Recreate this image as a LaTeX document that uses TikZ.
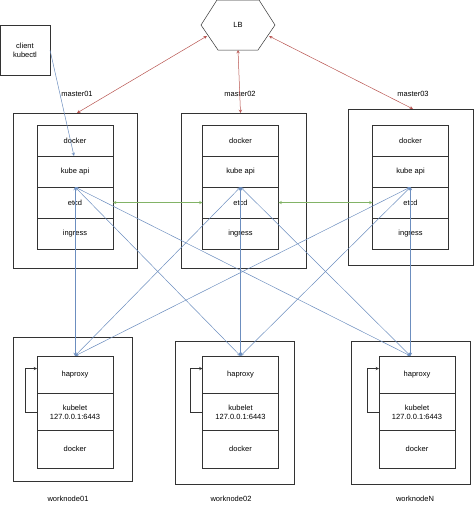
\documentclass[tikz,border=0pt]{standalone}
\usepackage{fontspec}
\setsansfont{Liberation Sans}
\usepackage{xcolor}
\usetikzlibrary{positioning}

\definecolor{lbred}{HTML}{B85450}
\definecolor{etcdgreen}{HTML}{82B366}
\definecolor{apiblue}{HTML}{6C8EBF}

\begin{document}
\begin{tikzpicture}[x=1pt,y=-1pt,>=stealth,font=\sffamily\fontsize{7.5}{9}\selectfont]
  \tikzstyle{frame}=[draw=black!80,line width=0.5pt,outer sep=0pt,inner sep=0pt]
  \tikzstyle{row}=[frame,minimum width=76pt,minimum height=31pt]
  \tikzstyle{wrow}=[frame,minimum width=76pt,minimum height=37.3pt,align=center]
  \tikzstyle{lbline}=[draw=lbred,line width=0.5pt,<->]
  \tikzstyle{etcdline}=[draw=etcdgreen,line width=0.5pt,<->]
  \tikzstyle{apiline}=[draw=apiblue,line width=0.5pt,<->]
  \useasboundingbox (0,0) rectangle (474,506);

  % load balancer
  \draw[frame] (201,25) -- (217,0) -- (259,0) -- (275,25) -- (258,50) -- (218,50) -- cycle;
  \node (lb) at (238,25) {LB};
  \coordinate (lbsw) at (207,36);
  \coordinate (lbs) at (238,50);
  \coordinate (lbse) at (269,36);

  % client
  \node[frame,minimum width=50pt,minimum height=50pt,align=center] (client) at (25,50) {client\\kubectl};

  % masters
  \node[frame,minimum width=124pt,minimum height=155pt] (m1) at (75,190.5) {};
  \node[frame,minimum width=125pt,minimum height=155pt] (m2) at (243.5,190.5) {};
  \node[frame,minimum width=125pt,minimum height=156pt] (m3) at (410.5,187) {};
  \node (m1label) at (77,94) {master01};
  \node (m2label) at (240,94) {master02};
  \node (m3label) at (413,94) {master03};

  \node[row] (m1docker) at (75,140.5) {docker};
  \node[row,below=0pt of m1docker] (m1api) {kube api};
  \node[row,below=0pt of m1api] (m1etcd) {etcd};
  \node[row,below=0pt of m1etcd] (m1ingress) {ingress};

  \node[row] (m2docker) at (240.5,140.5) {docker};
  \node[row,below=0pt of m2docker] (m2api) {kube api};
  \node[row,below=0pt of m2api] (m2etcd) {etcd};
  \node[row,below=0pt of m2etcd] (m2ingress) {ingress};

  \node[row] (m3docker) at (410.5,140.5) {docker};
  \node[row,below=0pt of m3docker] (m3api) {kube api};
  \node[row,below=0pt of m3api] (m3etcd) {etcd};
  \node[row,below=0pt of m3etcd] (m3ingress) {ingress};

  % worker nodes
  \node[frame,minimum width=119pt,minimum height=144pt] (w1) at (72.5,409) {};
  \node[frame,minimum width=119pt,minimum height=143pt] (w2) at (234.5,412.5) {};
  \node[frame,minimum width=119pt,minimum height=143pt] (wN) at (410.5,412.5) {};
  \node (w1label) at (68,499) {worknode01};
  \node (w2label) at (231,499) {worknode02};
  \node (wNlabel) at (415,499) {worknodeN};

  \node[wrow] (w1haproxy) at (75,374.6) {haproxy};
  \node[wrow,below=0pt of w1haproxy] (w1kubelet) {kubelet\\127.0.0.1:6443};
  \node[wrow,below=0pt of w1kubelet] (w1docker) {docker};

  \node[wrow] (w2haproxy) at (240.5,374.6) {haproxy};
  \node[wrow,below=0pt of w2haproxy] (w2kubelet) {kubelet\\127.0.0.1:6443};
  \node[wrow,below=0pt of w2kubelet] (w2docker) {docker};

  \node[wrow] (wNhaproxy) at (417,374.6) {haproxy};
  \node[wrow,below=0pt of wNhaproxy] (wNkubelet) {kubelet\\127.0.0.1:6443};
  \node[wrow,below=0pt of wNkubelet] (wNdocker) {docker};
  \coordinate (wNin) at ([xshift=-6.5pt]wNhaproxy.north);

  % kubelet -> local haproxy
  \draw[frame,->] (w1kubelet.west) -- ++(-12,0) |- ([yshift=6pt]w1haproxy.west);
  \draw[frame,->] (w2kubelet.west) -- ++(-12,0) |- ([yshift=6pt]w2haproxy.west);
  \draw[frame,->] (wNkubelet.west) -- ++(-12,0) |- ([yshift=6pt]wNhaproxy.west);

  % LB to masters
  \path[lbline] (lbsw) -- ([xshift=2pt]m1.north);
  \path[lbline] (lbs) -- ([xshift=-3pt]m2.north);
  \path[lbline] (lbse) -- ([xshift=2.5pt]m3.north);

  % client
  \draw[apiline,->] (client.east) -- ([xshift=-1pt]m1api.north);

  % etcd cluster
  \path[etcdline] (m1etcd.east) -- (m2etcd.west);
  \path[etcdline] (m2etcd.east) -- (m3etcd.west);

  % haproxy to every kube api
  \path[apiline] (m1api.south) -- (w1haproxy.north);
  \path[apiline] (m1api.south) -- (w2haproxy.north);
  \path[apiline] (m1api.south) -- (wNin);
  \path[apiline] (m2api.south) -- (w1haproxy.north);
  \path[apiline] (m2api.south) -- (w2haproxy.north);
  \path[apiline] (m2api.south) -- (wNin);
  \path[apiline] (m3api.south) -- (w1haproxy.north);
  \path[apiline] (m3api.south) -- (w2haproxy.north);
  \path[apiline] (m3api.south) -- (wNin);
\end{tikzpicture}
\end{document}
